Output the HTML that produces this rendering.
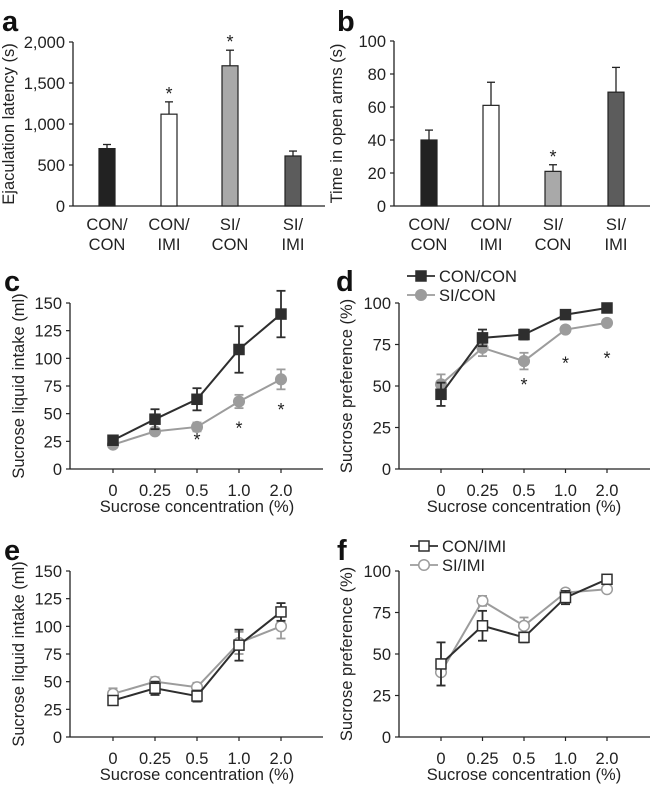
<!DOCTYPE html>
<html><head><meta charset="utf-8"><style>
html,body{margin:0;padding:0;background:#fff}
svg{display:block;font-family:"Liberation Sans",Arial,sans-serif}
</style></head><body>
<svg id="fig" width="650" height="788" viewBox="0 0 650 788"></svg>
<script>
// Panel a
const aCats = ["CON/|CON","CON/|IMI","SI/|CON","SI/|IMI"];
const aVals = [700,1120,1710,610];
const aErr = [50,150,190,60];
const aStar = [false,true,true,false];
const aTicks = [0,500,1000,1500,2000];
const aTickLabels = ["0","500","1,000","1,500","2,000"];
// Panel b
const bVals = [40,61,21,69];
const bErr = [6,14,4,15];
const bStar = [false,false,true,false];
const bTicks = [0,20,40,60,80,100];
// line panels
const conc = ["0","0.25","0.5","1.0","2.0"];
const cCon = [26,45,63,108,140], cConErr = [4,9,10,21,21];
const cSi = [22,34,38,61,81], cSiErr = [3,3,4,6,9];
const cStars = [null,null,30,40,57];
const dCon = [45,79,81,93,97], dConErr = [7,5,3,2,2];
const dSi = [51,73,65,84,88], dSiErr = [6,5,5,2,2];
const dStars = [null,null,53,66,69];
const eCon = [33,44,37,83,113], eConErr = [4,6,5,14,8];
const eSi = [39,50,45,85,100], eSiErr = [5,4,4,10,11];
const fCon = [44,67,60,84,95], fConErr = [13,9,3,4,2];
const fSi = [39,82,67,87,89], fSiErr = [8,3,5,2,2];
const intakeTicks = [0,25,50,75,100,125,150];
const prefTicks = [0,25,50,75,100];

const NS="http://www.w3.org/2000/svg";
const svg=document.getElementById('fig');
function el(tag,attrs,parent,text){const e=document.createElementNS(NS,tag);for(const k in attrs)e.setAttribute(k,attrs[k]);if(text!=null)e.textContent=text;(parent||svg).appendChild(e);return e;}
const barColors=["#222","#fff","#a9a9a9","#5c5c5c"];

function axes(g,x0,xEnd,yTop,yBot,max,ticks,labels,ytitle){
  const ys=v=>yBot-(v/max)*(yBot-yTop);
  let a=el('line',{x1:x0,y1:yTop,x2:x0,y2:yBot,stroke:'#222','stroke-width':1.3},g);
  
  
  a=el('line',{x1:x0,y1:yBot,x2:xEnd,y2:yBot,stroke:'#222','stroke-width':1.3},g);
  
  
  ticks.forEach((t,i)=>{
    el('line',{x1:x0-4,y1:ys(t),x2:x0,y2:ys(t),stroke:'#222','stroke-width':1.2},g);
    const tl=el('text',{x:x0-8,y:ys(t)+6,'text-anchor':'end','font-size':16.5,fill:'#222'},g,labels?labels[i]:String(t));
    
    
  });
  const yc=(yTop+yBot)/2;
  const tt=el('text',{x:0,y:0,transform:`translate(${x0-58+(ytitle.off||0)},${yc}) rotate(-90)`,'text-anchor':'middle','font-size':16.5,fill:'#222'},g,ytitle.t);
  
  
  return ys;
}
function letter(g,x,y,t){const l=el('text',{x:x,y:y,'font-size':29,'font-weight':'bold',fill:'#111'},g,t);
  
  }

function barPanel(id,x0,xEnd,yTop,yBot,max,ticks,labels,title,vals,errs,stars,centers){
  const g=el('g',{},svg);
  
  
  const ys=axes(g,x0,xEnd,yTop,yBot,max,ticks,labels,title);
  vals.forEach((v,i)=>{
    const cx=centers[i],w=16;
    const top=ys(v+errs[i]);
    el('line',{x1:cx,y1:ys(v),x2:cx,y2:top,stroke:'#222','stroke-width':1.3},g);
    el('line',{x1:cx-4,y1:top,x2:cx+4,y2:top,stroke:'#222','stroke-width':1.3},g);
    const r=el('rect',{x:cx-w/2,y:ys(v),width:w,height:yBot-ys(v),fill:barColors[i],stroke:'#222','stroke-width':1.2},g);
    
    
    if(stars[i]){const s=el('text',{x:cx,y:top-2,'text-anchor':'middle','font-size':18,fill:'#222'},g,'*');
      
      }
    const parts=aCats[i].split('|');
    parts.forEach((p,j)=>{const t=el('text',{x:cx,y:yBot+24+j*20,'text-anchor':'middle','font-size':16.5,fill:'#222'},g,p);
      
      });
  });
}
barPanel('a',73,325,42,206,2000,aTicks,aTickLabels,{t:'Ejaculation latency (s)',off:-1},aVals,aErr,aStar,[107,169,230,293]);
letter(svg,2,31,'a');
barPanel('b',394,650,41,206,100,bTicks,null,{t:'Time in open arms (s)',off:6},bVals,bErr,bStar,[429,491,553,616]);
letter(svg,337,31,'b');

function linePanel(id,x0,xEnd,yTop,yBot,max,ticks,title,xs,series,stars,legend){
  const g=el('g',{},svg);
  
  
  const ys=axes(g,x0,xEnd,yTop,yBot,max,ticks,null,title);
  const xp=i=>xs[0]+i*(xs[1]-xs[0]);
  conc.forEach((c,i)=>{el('line',{x1:xp(i),y1:yBot,x2:xp(i),y2:yBot+4,stroke:'#222','stroke-width':1.2},g);
    const t=el('text',{x:xp(i),y:yBot+27,'text-anchor':'middle','font-size':16.5,fill:'#222'},g,c);
    
    });
  const xt=el('text',{x:(xp(0)+xp(4))/2,y:yBot+43,'text-anchor':'middle','font-size':16.5,fill:'#222'},g,'Sucrose concentration (%)');
  
  
  series.slice().reverse().forEach(s=>{
    const sg=el('g',{},g);
    
    
    el('polyline',{points:s.v.map((v,i)=>xp(i)+','+ys(v)).join(' '),fill:'none',stroke:s.c,'stroke-width':2},sg);
    s.v.forEach((v,i)=>{
      const x=xp(i),y1=ys(v-s.e[i]),y2=ys(v+s.e[i]);
      el('line',{x1:x,y1:y1,x2:x,y2:y2,stroke:s.c,'stroke-width':1.8},sg);
      el('line',{x1:x-4.5,y1:y1,x2:x+4.5,y2:y1,stroke:s.c,'stroke-width':1.8},sg);
      el('line',{x1:x-4.5,y1:y2,x2:x+4.5,y2:y2,stroke:s.c,'stroke-width':1.8},sg);
      marker(sg,s,x,ys(v));
    });
  });
  if(stars)stars.forEach((v,i)=>{if(v==null)return;
    const s=el('text',{x:xp(i),y:ys(v)+10,'text-anchor':'middle','font-size':18,fill:'#222'},g,'*');
    
    });
  if(legend){series.forEach((s,j)=>{
    const ly=legend.y+j*19;
    const lg=el('g',{},g);
    
    
    el('line',{x1:legend.x,y1:ly,x2:legend.x+28,y2:ly,stroke:s.c,'stroke-width':1.8},lg);
    marker(lg,s,legend.x+14,ly);
    el('text',{x:legend.x+32,y:ly+6,'font-size':16.5,fill:'#222'},lg,s.name);
  });}
}
function marker(g,s,x,y){
  let m;
  if(s.m==='sq')m=el('rect',{x:x-5,y:y-5,width:10,height:10,fill:s.fill,stroke:s.c,'stroke-width':1.5},g);
  else m=el('circle',{cx:x,cy:y,r:5.3,fill:s.fill,stroke:s.c,'stroke-width':1.5},g);
  
  
}
const dk='#2e2e2e',lt='#9c9c9c';
linePanel('c',70,323,303,469,150,intakeTicks,{t:'Sucrose liquid intake (ml)',off:12},[113,155],
  [{name:'CON/CON',v:cCon,e:cConErr,c:dk,fill:dk,m:'sq'},{name:'SI/CON',v:cSi,e:cSiErr,c:lt,fill:lt,m:'c'}],cStars,null);
letter(svg,4,291,'c');
linePanel('d',399,650,303,469,100,prefTicks,{t:'Sucrose preference (%)',off:11},[441,482.5],
  [{name:'CON/CON',v:dCon,e:dConErr,c:dk,fill:dk,m:'sq'},{name:'SI/CON',v:dSi,e:dSiErr,c:lt,fill:lt,m:'c'}],dStars,{x:407,y:276});
letter(svg,336,291,'d');
linePanel('e',70,323,571,737,150,intakeTicks,{t:'Sucrose liquid intake (ml)',off:12},[113,155],
  [{name:'CON/IMI',v:eCon,e:eConErr,c:dk,fill:'#fff',m:'sq'},{name:'SI/IMI',v:eSi,e:eSiErr,c:lt,fill:'#fff',m:'c'}],null,null);
letter(svg,4,560,'e');
linePanel('f',399,650,571,737,100,prefTicks,{t:'Sucrose preference (%)',off:11},[441,482.5],
  [{name:'CON/IMI',v:fCon,e:fConErr,c:dk,fill:'#fff',m:'sq'},{name:'SI/IMI',v:fSi,e:fSiErr,c:lt,fill:'#fff',m:'c'}],null,{x:410,y:546});
letter(svg,337,560,'f');
</script>
</body></html>
